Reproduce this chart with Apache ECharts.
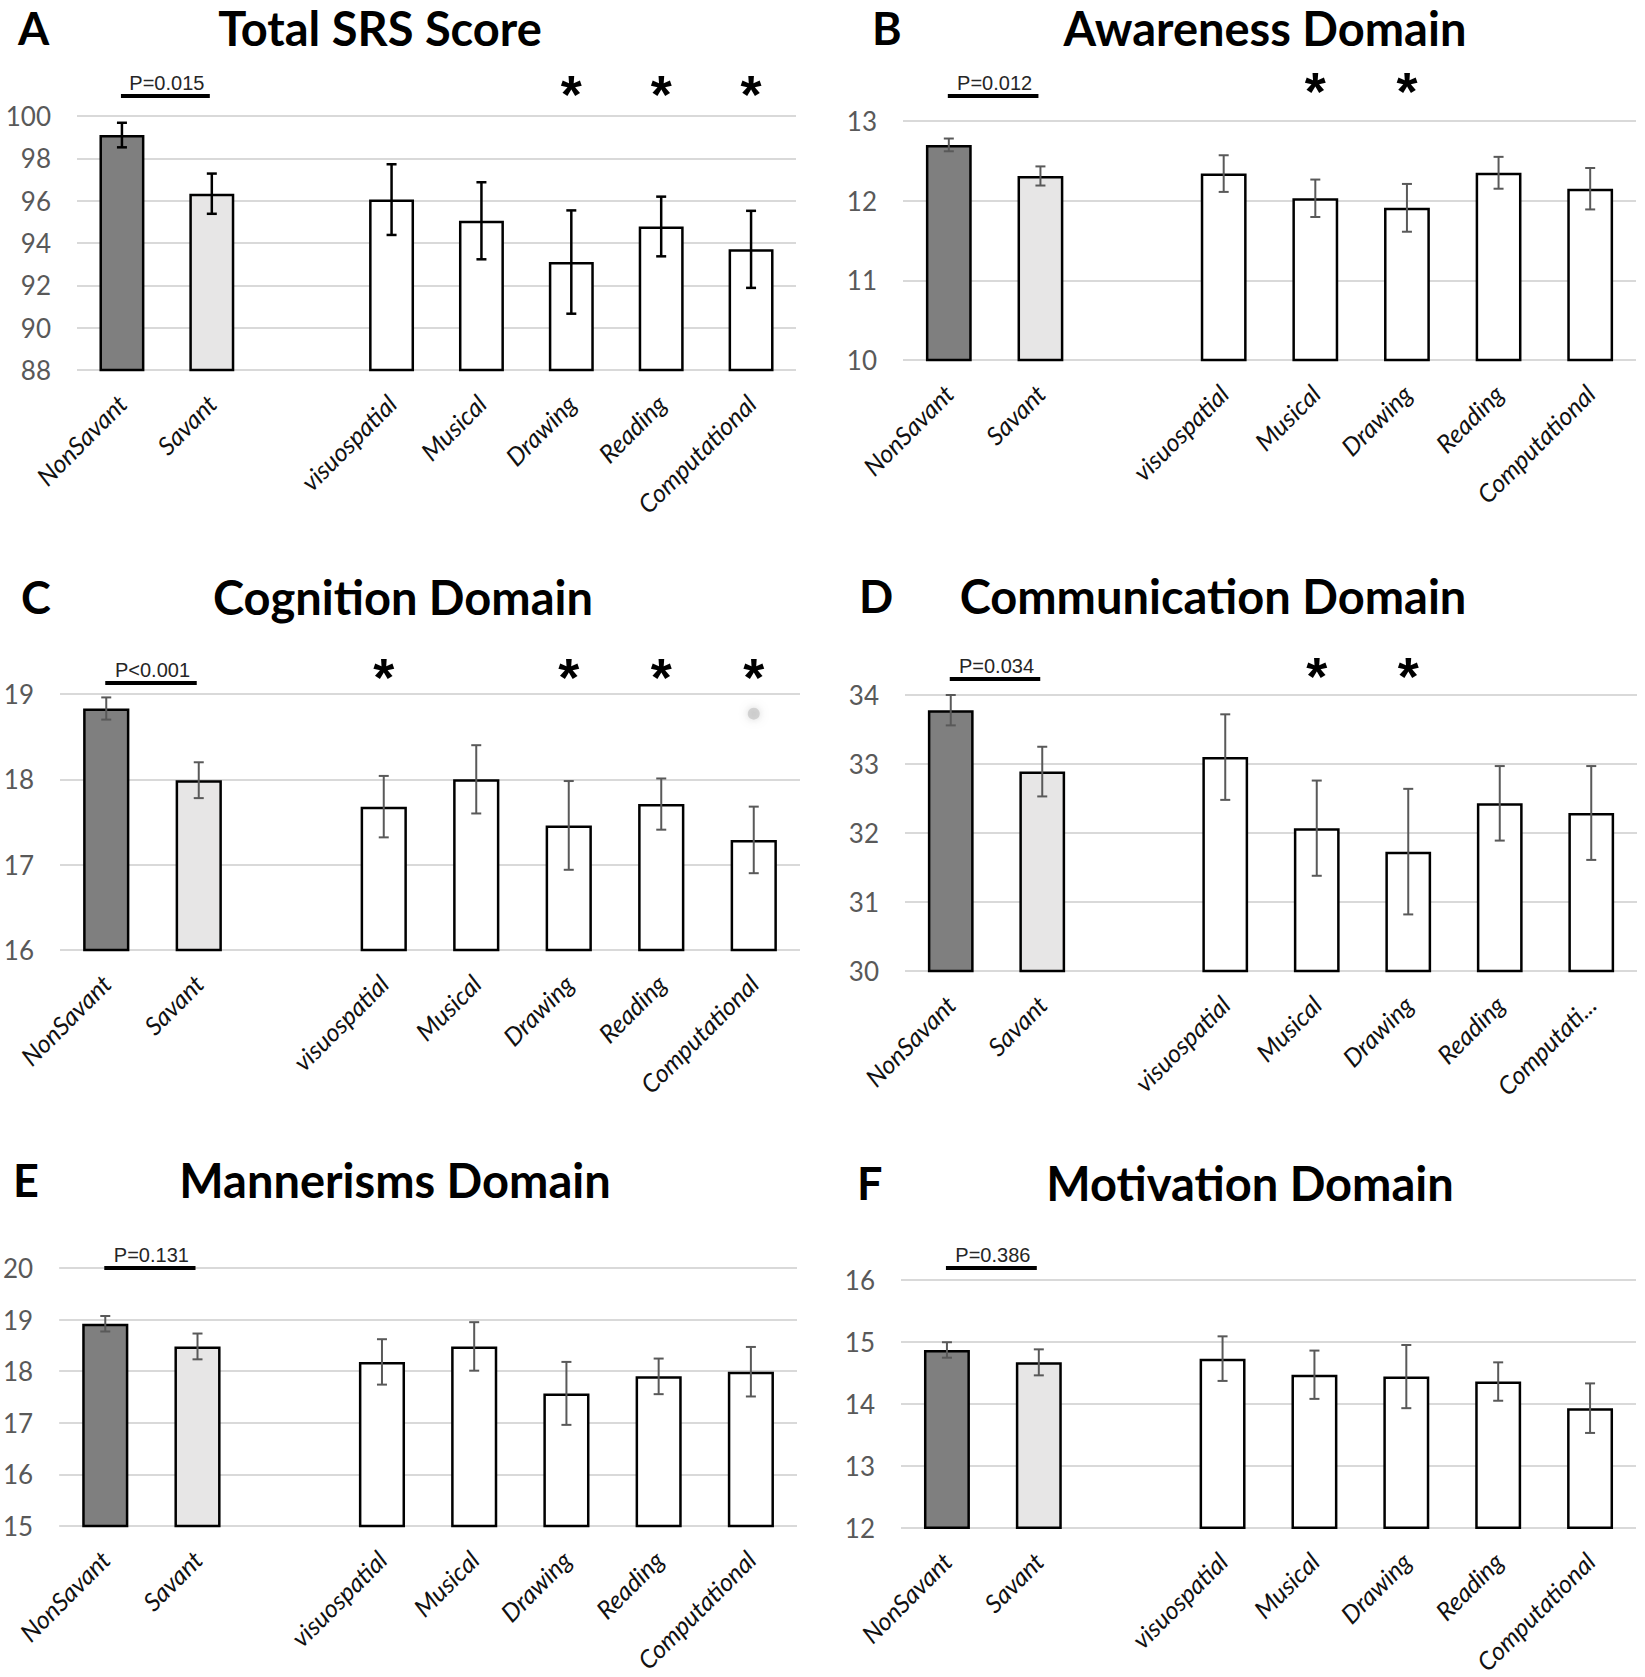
<!DOCTYPE html>
<html><head><meta charset="utf-8">
<script src="https://cdn.jsdelivr.net/npm/echarts@6/dist/echarts.min.js"></script>
<style>html,body{margin:0;padding:0;background:#fff}#c{width:1645px;height:1677px}</style>
</head><body><div id="c"></div>
<script>
// ---------- data ----------
const categories  = ['NonSavant','Savant','','visuospatial','Musical','Drawing','Reading','Computational'];
const categoriesD = ['NonSavant','Savant','','visuospatial','Musical','Drawing','Reading','Computati...'];

const totalMean = [99.1, 96.33, null, 96.05, 95.05, 93.1, 94.78, 93.7];
const totalErr  = [0.58, 0.95, null, 1.67, 1.82, 2.44, 1.41, 1.82];
const awarenessMean = [12.70, 12.31, null, 12.34, 12.03, 11.91, 12.35, 12.15];
const awarenessErr  = [0.08, 0.12, null, 0.23, 0.235, 0.30, 0.20, 0.26];
const cognitionMean = [18.83, 17.99, null, 17.68, 18.0, 17.46, 17.71, 17.29];
const cognitionErr  = [0.13, 0.21, null, 0.36, 0.40, 0.52, 0.30, 0.39];
const communicationMean = [33.78, 32.89, null, 33.10, 32.07, 31.73, 32.43, 32.29];
const communicationErr  = [0.22, 0.36, null, 0.62, 0.69, 0.91, 0.54, 0.68];
const mannerismsMean = [18.92, 18.48, null, 18.18, 18.48, 17.57, 17.90, 17.99];
const mannerismsErr  = [0.15, 0.25, null, 0.44, 0.47, 0.61, 0.345, 0.48];
const motivationMean = [14.87, 14.67, null, 14.73, 14.47, 14.44, 14.36, 13.93];
const motivationErr  = [0.125, 0.21, null, 0.36, 0.39, 0.51, 0.31, 0.40];

const titles = ['Total SRS Score','Awareness Domain','Cognition Domain','Communication Domain','Mannerisms Domain','Motivation Domain'];
const letters = ['A','B','C','D','E','F'];
const pTexts = ['P=0.015','P=0.012','P<0.001','P=0.034','P=0.131','P=0.386'];
const starCats = [[5,6,7],[4,5],[3,5,6,7],[4,5],[],[]];
const yMin = [88,10,16,30,15,12];
const yMax = [100,13,19,34,20,16];
const yInterval = [2,1,1,1,1,1];
const artifactC = [[7, 18.77]]; // faint grey smudge in panel C

// ---------- layout / style ----------
const barFills = ['#7f7f7f','#e7e6e6',null,'#ffffff','#ffffff','#ffffff','#ffffff','#ffffff'];
const grids = [
  {left:77,  top:116,  width:719, height:254},
  {left:903, top:121,  width:733, height:239},
  {left:60,  top:694,  width:740, height:256},
  {left:905, top:695,  width:732, height:276},
  {left:57,  top:1268, width:740, height:258},
  {left:901, top:1280, width:735, height:253}
];
const letterPos = [[18,28],[872,28],[21,597],[859,596],[13,1180],[857,1183]];
const titlePos  = [[380,28],[1265,28],[403,597],[1213,596],[395,1180],[1250,1183]];
const pLineY = [96,96,683,679,1268,1268];
const starY  = [87,84,670,669,0,0];
const errColors = ['#000000','#595959','#595959','#595959','#595959','#595959'];
const errWidths = [2.5,2,2,2,2,2];

const means = [totalMean, awarenessMean, cognitionMean, communicationMean, mannerismsMean, motivationMean];
const errs  = [totalErr, awarenessErr, cognitionErr, communicationErr, mannerismsErr, motivationErr];
const catSets = [categories, categories, categories, categoriesD, categories, categories];

const chart = echarts.init(document.getElementById('c'), null, {renderer:'svg'});

const gridOpt = [], xAxes = [], yAxes = [], series = [];
for (let i = 0; i < 6; i++) {
  gridOpt.push(Object.assign({containLabel:false}, grids[i]));
  xAxes.push({
    type:'category', gridIndex:i, data:catSets[i],
    axisLine:{show:false}, axisTick:{show:false},
    axisLabel:{interval:0, rotate:45, fontStyle:'italic', fontSize:25, color:'#111',
               fontFamily:'Lato', margin:29}
  });
  yAxes.push({
    type:'value', gridIndex:i, min:yMin[i], max:yMax[i], interval:yInterval[i],
    axisLine:{show:false}, axisTick:{show:false},
    axisLabel:{fontSize:26, color:'#595959', fontFamily:'Lato', margin:26},
    splitLine:{show:true, lineStyle:{color:'#d9d9d9', width:2}}
  });
  series.push({
    type:'bar', xAxisIndex:i, yAxisIndex:i, barWidth:'50%', clip:true,
    data: means[i].map((v,k) => v == null ? null : {value:v, itemStyle:{color:barFills[k]}}),
    itemStyle:{borderColor:'#000', borderWidth:2.5},
    emphasis:{disabled:true}, z:2
  });
  const ec = errColors[i], ew = errWidths[i];
  series.push({
    type:'custom', xAxisIndex:i, yAxisIndex:i, z:5, clip:false,
    encode:{x:0, y:[1,2]},
    data: means[i].map((v,k) => v == null ? null : [k, v - errs[i][k], v + errs[i][k]]).filter(d => d),
    renderItem: function(params, api) {
      const x = api.value(0);
      const hi = api.coord([x, api.value(2)]);
      const lo = api.coord([x, api.value(1)]);
      const cap = 5;
      const st = {stroke:ec, lineWidth:ew, fill:null};
      return {type:'group', children:[
        {type:'line', shape:{x1:hi[0], y1:hi[1], x2:lo[0], y2:lo[1]}, style:st},
        {type:'line', shape:{x1:hi[0]-cap, y1:hi[1], x2:hi[0]+cap, y2:hi[1]}, style:st},
        {type:'line', shape:{x1:lo[0]-cap, y1:lo[1], x2:lo[0]+cap, y2:lo[1]}, style:st}
      ]};
    }
  });
}
series.push({
  type:'scatter', xAxisIndex:2, yAxisIndex:2, data:artifactC, symbolSize:12,
  itemStyle:{color:'rgba(185,185,185,0.7)', shadowBlur:8, shadowColor:'rgba(170,170,170,0.9)'},
  z:1, silent:true
});

chart.setOption({
  animation:false, backgroundColor:'#fff',
  grid:gridOpt, xAxis:xAxes, yAxis:yAxes, series:series
});

// ---------- annotations ----------
const graphic = [];
for (let i = 0; i < 6; i++) {
  graphic.push({type:'text', style:{text:letters[i], x:letterPos[i][0], y:letterPos[i][1],
    font:'bold 45px Lato', fill:'#000', textAlign:'left', textVerticalAlign:'middle'}});
  graphic.push({type:'text', style:{text:titles[i], x:titlePos[i][0], y:titlePos[i][1],
    font:'bold 47px Lato', fill:'#000', textAlign:'center', textVerticalAlign:'middle'}});
  const a = chart.convertToPixel({gridIndex:i}, [0, yMax[i]]);
  const b = chart.convertToPixel({gridIndex:i}, [1, yMax[i]]);
  graphic.push({type:'line', shape:{x1:a[0]-1, y1:pLineY[i], x2:b[0]-2, y2:pLineY[i]},
    style:{stroke:'#000', lineWidth:4}});
  graphic.push({type:'text', style:{text:pTexts[i], x:(a[0]+b[0])/2, y:pLineY[i]-13,
    font:'20px "Liberation Sans"', fill:'#262626', textAlign:'center', textVerticalAlign:'middle'}});
  starCats[i].forEach(k => {
    const p = chart.convertToPixel({gridIndex:i}, [k, yMax[i]]);
    graphic.push({type:'text', style:{text:'*', x:p[0], y:starY[i]+7,
      font:'bold 54px "Liberation Sans"', fill:'#000', textAlign:'center', textVerticalAlign:'middle'}});
  });
}
chart.setOption({graphic:graphic});
</script></body></html>
